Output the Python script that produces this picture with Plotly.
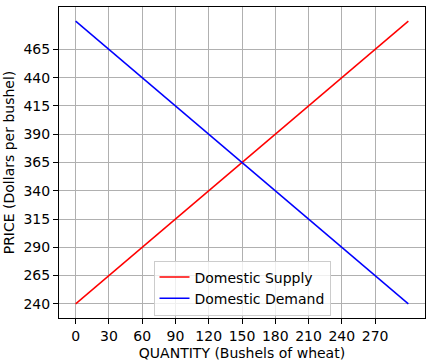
import plotly.graph_objects as go

quantity = [0, 300]
supply_price = [240, 490]
demand_price = [490, 240]
x_ticks = [0, 30, 60, 90, 120, 150, 180, 210, 240, 270]
y_ticks = [240, 265, 290, 315, 340, 365, 390, 415, 440, 465]

fig = go.Figure()
fig.add_trace(go.Scatter(x=quantity, y=supply_price, mode="lines", name="Domestic Supply",
                         line=dict(color="red", width=1.5)))
fig.add_trace(go.Scatter(x=quantity, y=demand_price, mode="lines", name="Domestic Demand",
                         line=dict(color="blue", width=1.5)))

axis_common = dict(showgrid=True, gridcolor="#b0b0b0", gridwidth=1, zeroline=False,
                   showline=True, linecolor="black", linewidth=1, mirror=True,
                   ticks="outside", ticklen=5, tickcolor="black", automargin=False,
                   tickfont=dict(family="DejaVu Sans", size=14, color="black"))

fig.update_layout(
    width=436, height=362,
    margin=dict(l=59, r=11, t=7, b=44),
    paper_bgcolor="white", plot_bgcolor="white",
    font=dict(family="DejaVu Sans", size=14, color="black"),
    xaxis=dict(range=[-15, 315], tickvals=x_ticks,
               title=dict(text="QUANTITY (Bushels of wheat)", standoff=5, font=dict(size=14)),
               **axis_common),
    yaxis=dict(range=[227.5, 502.5], tickvals=y_ticks,
               title=dict(text="PRICE (Dollars per bushel)", standoff=5, font=dict(size=14)),
               **axis_common),
    legend=dict(x=0.5, xanchor="center", y=0.008, yanchor="bottom",
                bgcolor="rgba(255,255,255,0.8)", bordercolor="#cccccc", borderwidth=1,
                font=dict(size=14)),
    showlegend=True,
)

fig.write_html("out.html", config={"displayModeBar": False},
               post_script="document.body.style.margin='0';document.body.style.overflow='hidden';")
